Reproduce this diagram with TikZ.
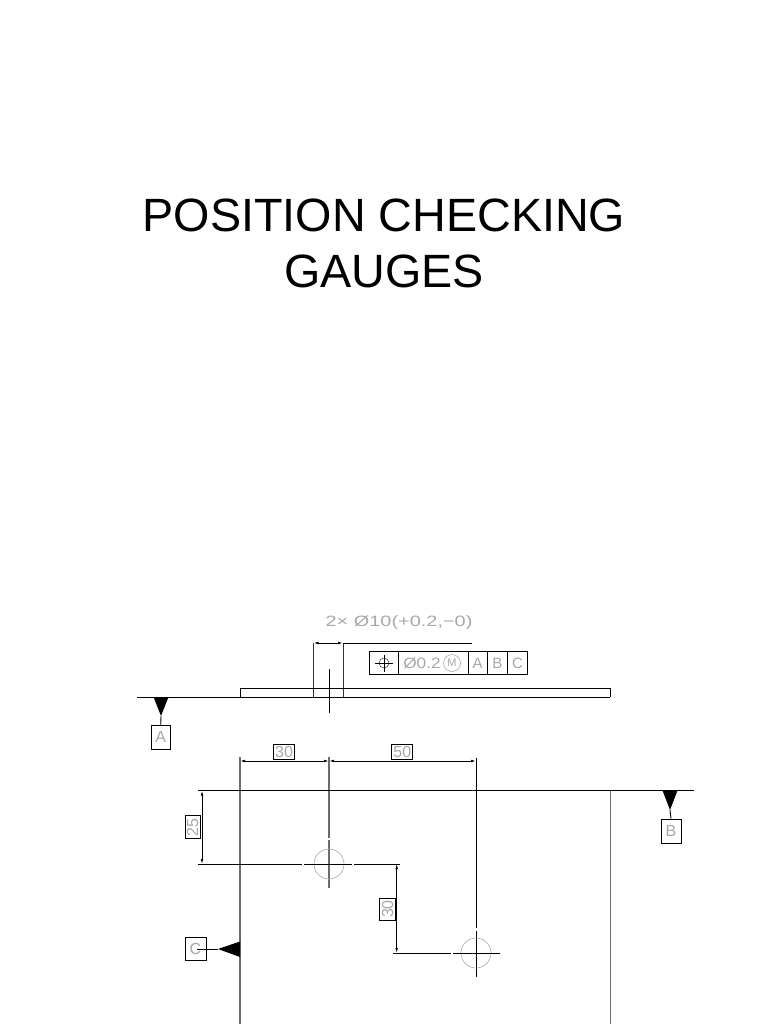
\documentclass[tikz,border=0pt]{standalone}
\usepackage{fontspec}
\setmainfont{Liberation Sans}
\usetikzlibrary{arrows.meta}
\definecolor{faint}{gray}{0.66}
\definecolor{heavy}{gray}{0.42}
\newfontfamily\widefont[FakeStretch=1.33]{Liberation Sans}
\newfontfamily\midfont[FakeStretch=1.15]{Liberation Sans}
\tikzset{
 x=1pt,y=-1pt,
 ln/.style={black,line width=0.9pt},
 ext/.style={heavy,line width=1.4pt},
 ext2/.style={black!80,line width=0.9pt},
 dim/.style={black,line width=0.8pt,{Latex[length=5pt,width=2.6pt]}-{Latex[length=5pt,width=2.6pt]}},
 holec/.style={draw=faint,line width=0.6pt,fill=none},
 tag/.style={draw=black,line width=0.9pt,fill=white,inner sep=0pt,text=faint,font=\fontsize{16}{16}\selectfont,anchor=center},
 title/.style={align=center,font=\fontsize{46.7}{56}\selectfont,text=black},
 thin text/.style={text=faint,font=\fontsize{15}{15}\selectfont,inner sep=0pt},
 tri/.style={fill=black,draw=none},
}
\begin{document}
\begin{tikzpicture}
\useasboundingbox (0,0) rectangle (768,1024);
\node[title] (ttl) at (384,243) {POSITION CHECKING\\GAUGES};

% top view leader text
\node[thin text] (note) at (399,622.5) {\widefont 2× Ø10(+0.2,−0)};
\coordinate (la) at (313.5,643); \coordinate (lb) at (343,643); \coordinate (lc) at (472,643);
\coordinate (lab) at (313.5,697); \coordinate (lbb) at (343,697);
\draw[ext2] (la)--(lab);
\draw[ext2] (lb)--(lbb);
\draw[dim] (la)--(lb);
\draw[ln] (lb)--(lc);

% control frame
\node[tag,minimum width=158.5pt,minimum height=23pt] (fcf) at (448.25,662.5) {};
\coordinate (d1t) at (398.7,651); \coordinate (d1b) at (398.7,674);
\coordinate (d2t) at (468,651); \coordinate (d2b) at (468,674);
\coordinate (d3t) at (487,651); \coordinate (d3b) at (487,674);
\coordinate (d4t) at (507.6,651); \coordinate (d4b) at (507.6,674);
\draw[ln] (d1t)--(d1b) (d2t)--(d2b) (d3t)--(d3b) (d4t)--(d4b);
\node[draw=black!70,circle,line width=0.6pt,minimum size=10pt,inner sep=0pt] (pos) at (384,663) {};
\draw[ln] (375,663)--(393,663) (384,654.5)--(384,671.5);
\node[thin text] (val) at (422,663) {\midfont Ø0.2};
\node[holec,draw,circle,minimum size=17pt,inner sep=0pt,text=faint,font=\fontsize{11}{11}\selectfont] (mmc) at (452,663) {M};
\node[thin text] (fa) at (477.5,663) {A};
\node[thin text] (fb) at (497.3,663) {B};
\node[thin text] (fc) at (517.5,663) {C};

% side view
\coordinate (base0) at (137,697); \coordinate (base1) at (610,697);
\draw[ln] (base0)--(base1);
\draw[ln] (240,697)--(240,688.5)--(610,688.5)--(610,697);
\coordinate (cl1) at (329,669); \coordinate (cl2) at (329,713);
\draw[ln] (cl1)--(cl2);

% datum A
\node[tag,minimum width=19.5pt,minimum height=23.5pt] (A) at (160.7,737.3) {A};
\coordinate (Aa) at (161,716);
\fill[tri] (153.5,697)--(168.5,697)--(Aa)--cycle;
\draw[ln] (Aa)--(A.north);

% plan view
\coordinate (e1t) at (240,757); \coordinate (e1b) at (240,1024);
\coordinate (e2t) at (329,757); \coordinate (e2m) at (329,838); \coordinate (e2n) at (329,840); \coordinate (e2b) at (329,888);
\coordinate (e3t) at (476,758); \coordinate (e3m) at (476,928); \coordinate (e3n) at (476,931); \coordinate (e3b) at (476,977);
\draw[ext] (e1t)--(e1b);
\draw[ext] (e2t)--(e2m) (e2n)--(e2b);
\draw[ln] (e3t)--(e3m) (e3n)--(e3b);
\draw[heavy,line width=1pt] (610,790.5)--(610,1024);
\coordinate (top0) at (198,790.5); \coordinate (top1) at (694,790.5);
\draw[ln] (top0)--(top1);

% hole 1
\node[holec,draw,circle,minimum size=30pt,inner sep=0pt] (h1) at (329,864) {};
\draw[ln] (198,864)--(302,864) (304,864)--(352,864) (354,864)--(400,864);
% hole 2
\node[holec,draw,circle,minimum size=30pt,inner sep=0pt] (h2) at (476,953) {};
\draw[ln] (393,953)--(451,953) (453,953)--(500,953);

% dimensions
\coordinate (d30a) at (240,761); \coordinate (d30b) at (329,761); \coordinate (d50b) at (476,761);
\draw[dim] (d30a)--(d30b);
\draw[dim] (d30b)--(d50b);
\node[tag,minimum width=21pt,minimum height=15.5pt] (n30) at (284,751.7) {30};
\node[tag,minimum width=21pt,minimum height=15.5pt] (n50) at (402.3,752) {50};
\coordinate (d25a) at (202,790.5); \coordinate (d25b) at (202,864);
\draw[dim] (d25a)--(d25b);
\node[tag,rotate=90,minimum width=23pt,minimum height=15.5pt] (n25) at (192.7,827.3) {25};
\coordinate (v30a) at (396.7,864); \coordinate (v30b) at (396.7,953);
\draw[dim] (v30a)--(v30b);
\node[tag,rotate=90,minimum width=22pt,minimum height=16pt] (v30) at (387.5,909) {30};

% datum B
\node[tag,minimum width=20pt,minimum height=24pt] (B) at (671,831) {B};
\coordinate (Ba) at (670,810);
\fill[tri] (662.5,790.5)--(677.5,790.5)--(Ba)--cycle;
\draw[ln] (Ba)--(B.north);

% datum C
\node[tag,minimum width=21pt,minimum height=23.5pt] (C) at (195.5,948.8) {C};
\coordinate (Ca) at (218,949);
\coordinate (Cs) at (197,949);
\fill[tri] (240,941.5)--(240,957)--(Ca)--cycle;
\draw[ln] (Ca)--(Cs);
\end{tikzpicture}
\end{document}
